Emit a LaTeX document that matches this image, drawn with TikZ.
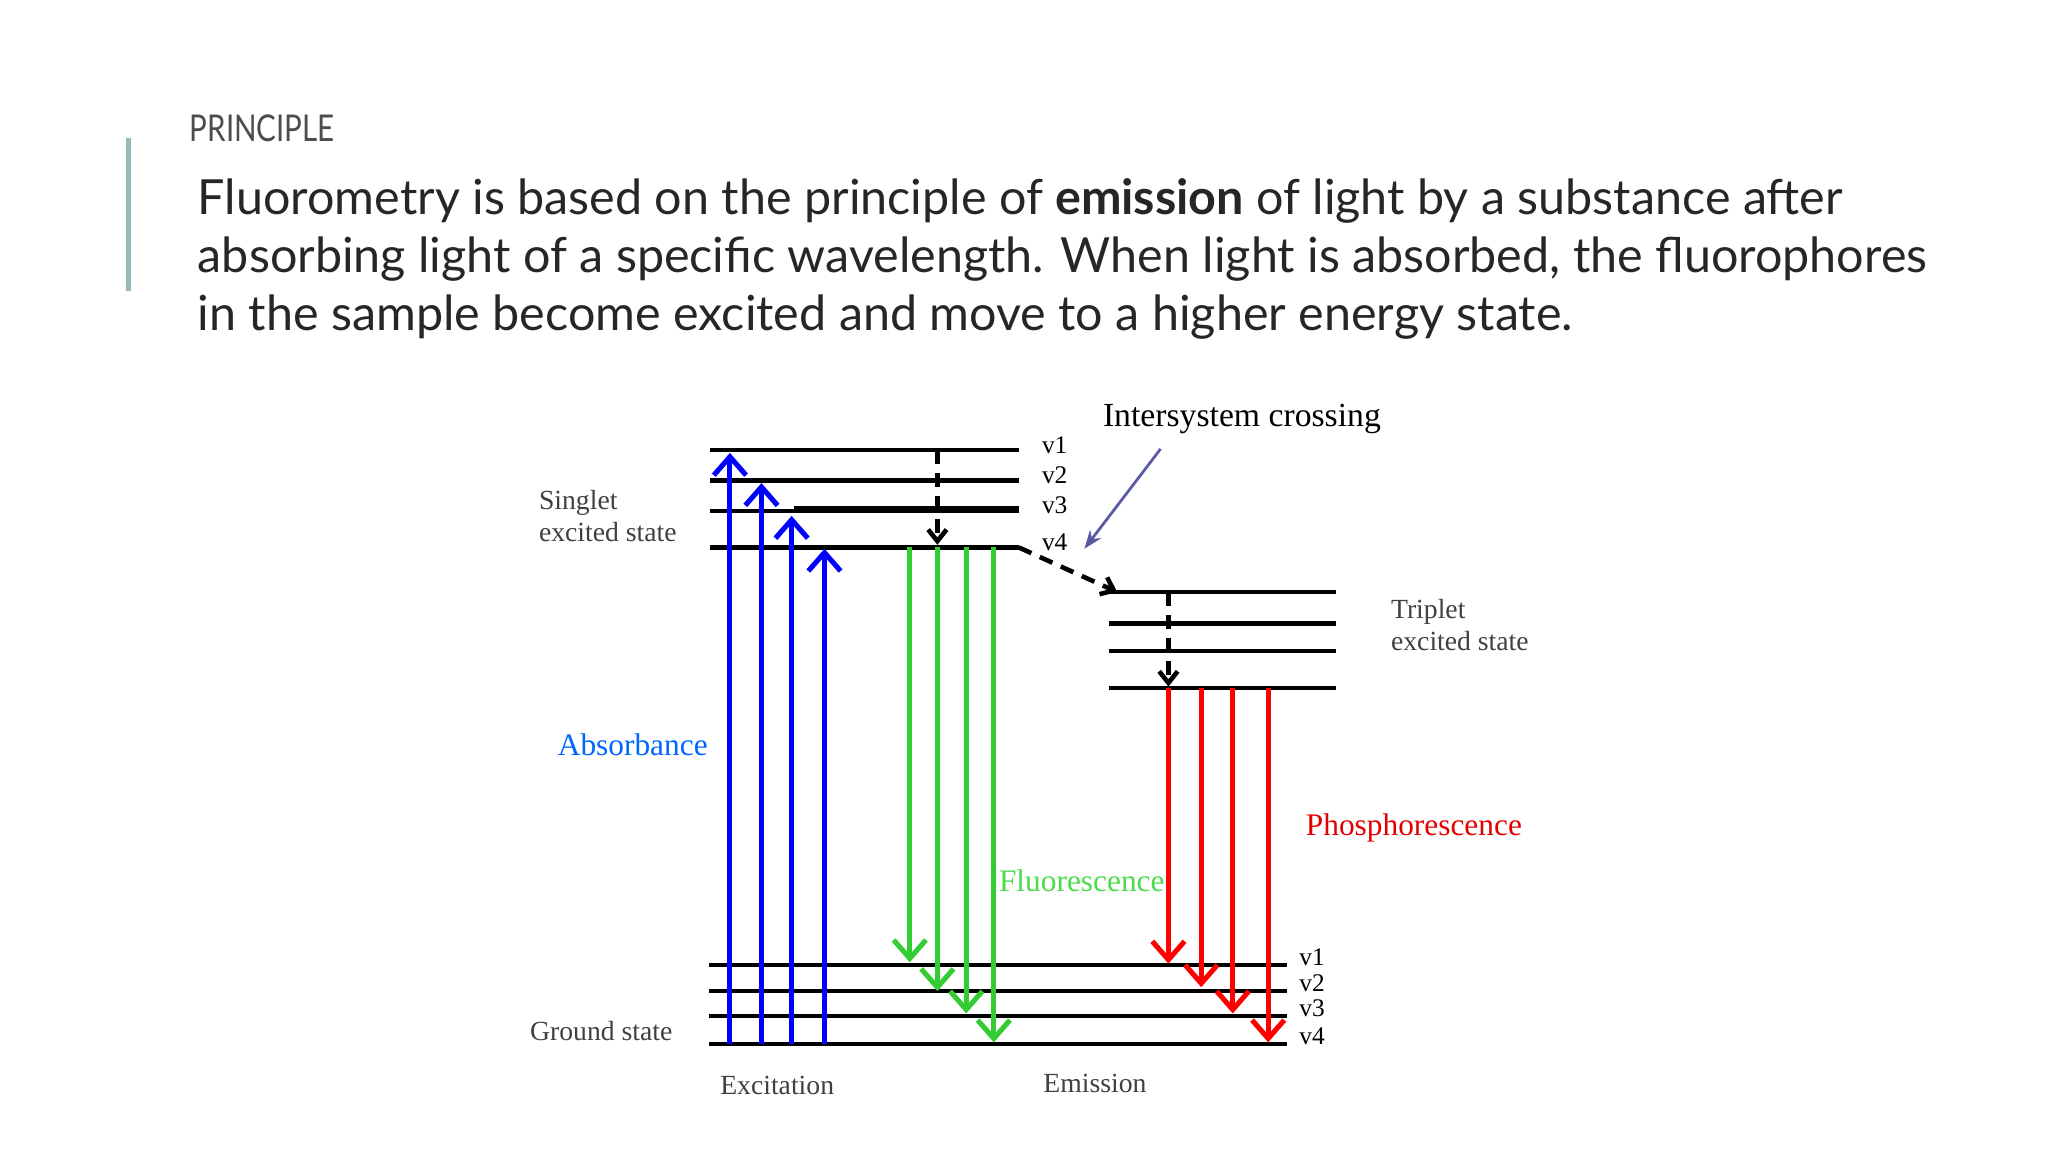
\documentclass[tikz,border=0pt]{standalone}
\usepackage{fontspec}
\setmainfont{Liberation Serif}
\newfontfamily\slidefont{Lato}
\usetikzlibrary{arrows.meta, positioning}

\begin{document}
\begin{tikzpicture}[x=0.1mm, y=-0.1mm,
    level_style/.style={line width=0.9pt, black},
    up_style/.style={-{Straight Barb[length=4pt, width=7pt]}, line width=1.1pt, blue},
    down_style/.style={-{Straight Barb[length=4pt, width=7pt]}, line width=1.1pt},
    dash_style/.style={-{Straight Barb[length=2.5pt, width=4pt]}, line width=1pt, dashed, dash pattern=on 3pt off 2pt},
    label_style/.style={font=\fontsize{6}{7}\selectfont, text=black!75, align=left, inner sep=0pt},
    vlabel_style/.style={font=\fontsize{5.5}{6}\selectfont, inner sep=0pt, anchor=west}
]
    \useasboundingbox (0,0) rectangle (1560,878);

    % Slide header and text
    \draw[line width=1.2pt, black!35!teal!40] (98,105) -- (98,222);
    \node[anchor=west, inner sep=0pt, text=black!70, font=\slidefont\fontsize{8}{9}\selectfont, xscale=0.8] (title) at (144,98) {PRINCIPLE};
    \node[anchor=north west, inner sep=0pt, text=black!85, font=\slidefont\fontsize{10.5}{12.6}\selectfont, align=left] (body) at (150,135)
        {Fluorometry is based on the principle of \textbf{emission} of light by a substance after\\
         absorbing light of a specific wavelength. When light is absorbed, the fluorophores\\
         in the sample become excited and move to a higher energy state.};

    % Singlet levels
    \foreach \y [count=\i] in {343,366,389,417} {
        \coordinate (s\i_l) at (541,\y);
        \coordinate (s\i_r) at (776,\y);
        \node[vlabel_style] (sv\i) at (793,\y-4) {v\i};
    }
    \draw[level_style] (s1_l) -- (s1_r);
    \draw[level_style] (s2_l) -- (s2_r);
    \draw[level_style] (s3_l) -- (s3_r);
    \draw[level_style] (605,387) -- (776,387);
    \draw[level_style] (s4_l) -- (s4_r);

    % Triplet levels
    \foreach \y [count=\i] in {451,475,496,524} {
        \coordinate (t\i_l) at (845,\y);
        \coordinate (t\i_r) at (1018,\y);
        \draw[level_style] (t\i_l) -- (t\i_r);
    }

    % Ground levels
    \foreach \y [count=\i] in {735,755,774,795} {
        \coordinate (g\i_l) at (540,\y);
        \coordinate (g\i_r) at (980,\y);
        \draw[level_style] (g\i_l) -- (g\i_r);
        \node[vlabel_style] (gv\i) at (989,\y-6) {v\i};
    }

    % Absorbance
    \foreach \x/\t [count=\i] in {556/345,580/368,603/393,628/418} {
        \coordinate (a\i_b) at (\x,795);
        \coordinate (a\i_t) at (\x,\t);
        \draw[up_style] (a\i_b) -- (a\i_t);
    }

    % Fluorescence
    \foreach \x/\b [count=\i] in {693/733,714/755,736/772,757/794} {
        \coordinate (f\i_t) at (\x,417);
        \coordinate (f\i_b) at (\x,\b);
        \draw[down_style, green!75!black!80!white] (f\i_t) -- (f\i_b);
    }

    % Phosphorescence
    \foreach \x/\b [count=\i] in {890/734,915/752,939/772,966/794} {
        \coordinate (p\i_t) at (\x,524);
        \coordinate (p\i_b) at (\x,\b);
        \draw[down_style, red] (p\i_t) -- (p\i_b);
    }

    % Relaxation and crossing
    \coordinate (r_top) at (714,343);
    \coordinate (r_bot) at (714,415);
    \coordinate (x_end) at (851,451);
    \coordinate (q_top) at (890,451);
    \coordinate (q_bot) at (890,523);
    \draw[dash_style] (r_top) -- (r_bot);
    \draw[dash_style] (s4_r) -- (x_end);
    \draw[dash_style] (q_top) -- (q_bot);

    % Labels
    \node[font=\fontsize{7.3}{8}\selectfont, inner sep=0pt] (isc) at (946,319) {Intersystem crossing};
    \coordinate (isc_from) at (884,342);
    \coordinate (isc_to) at (826,418);
    \draw[-{Stealth[length=4pt]}, line width=0.6pt, blue!30!gray] (isc_from) -- (isc_to);

    \node[label_style] (singlet) at (463,393) {Singlet\\excited state};
    \node[label_style] (triplet) at (1112,476) {Triplet\\excited state};
    \node[label_style] (ground) at (458,785) {Ground state};
    \node[label_style] (excit) at (592,827) {Excitation};
    \node[label_style] (emis) at (834,825) {Emission};
    \node[font=\fontsize{6.8}{7}\selectfont, text=blue!60!cyan, inner sep=0pt] (absorb) at (482,567) {Absorbance};
    \node[font=\fontsize{6.8}{7}\selectfont, text=green!80!black!70!white, inner sep=0pt] (fluo) at (824,671) {Fluorescence};
    \node[font=\fontsize{6.8}{7}\selectfont, text=red!90!black, inner sep=0pt] (phos) at (1077,631) {Phosphorescence};
\end{tikzpicture}
\end{document}
